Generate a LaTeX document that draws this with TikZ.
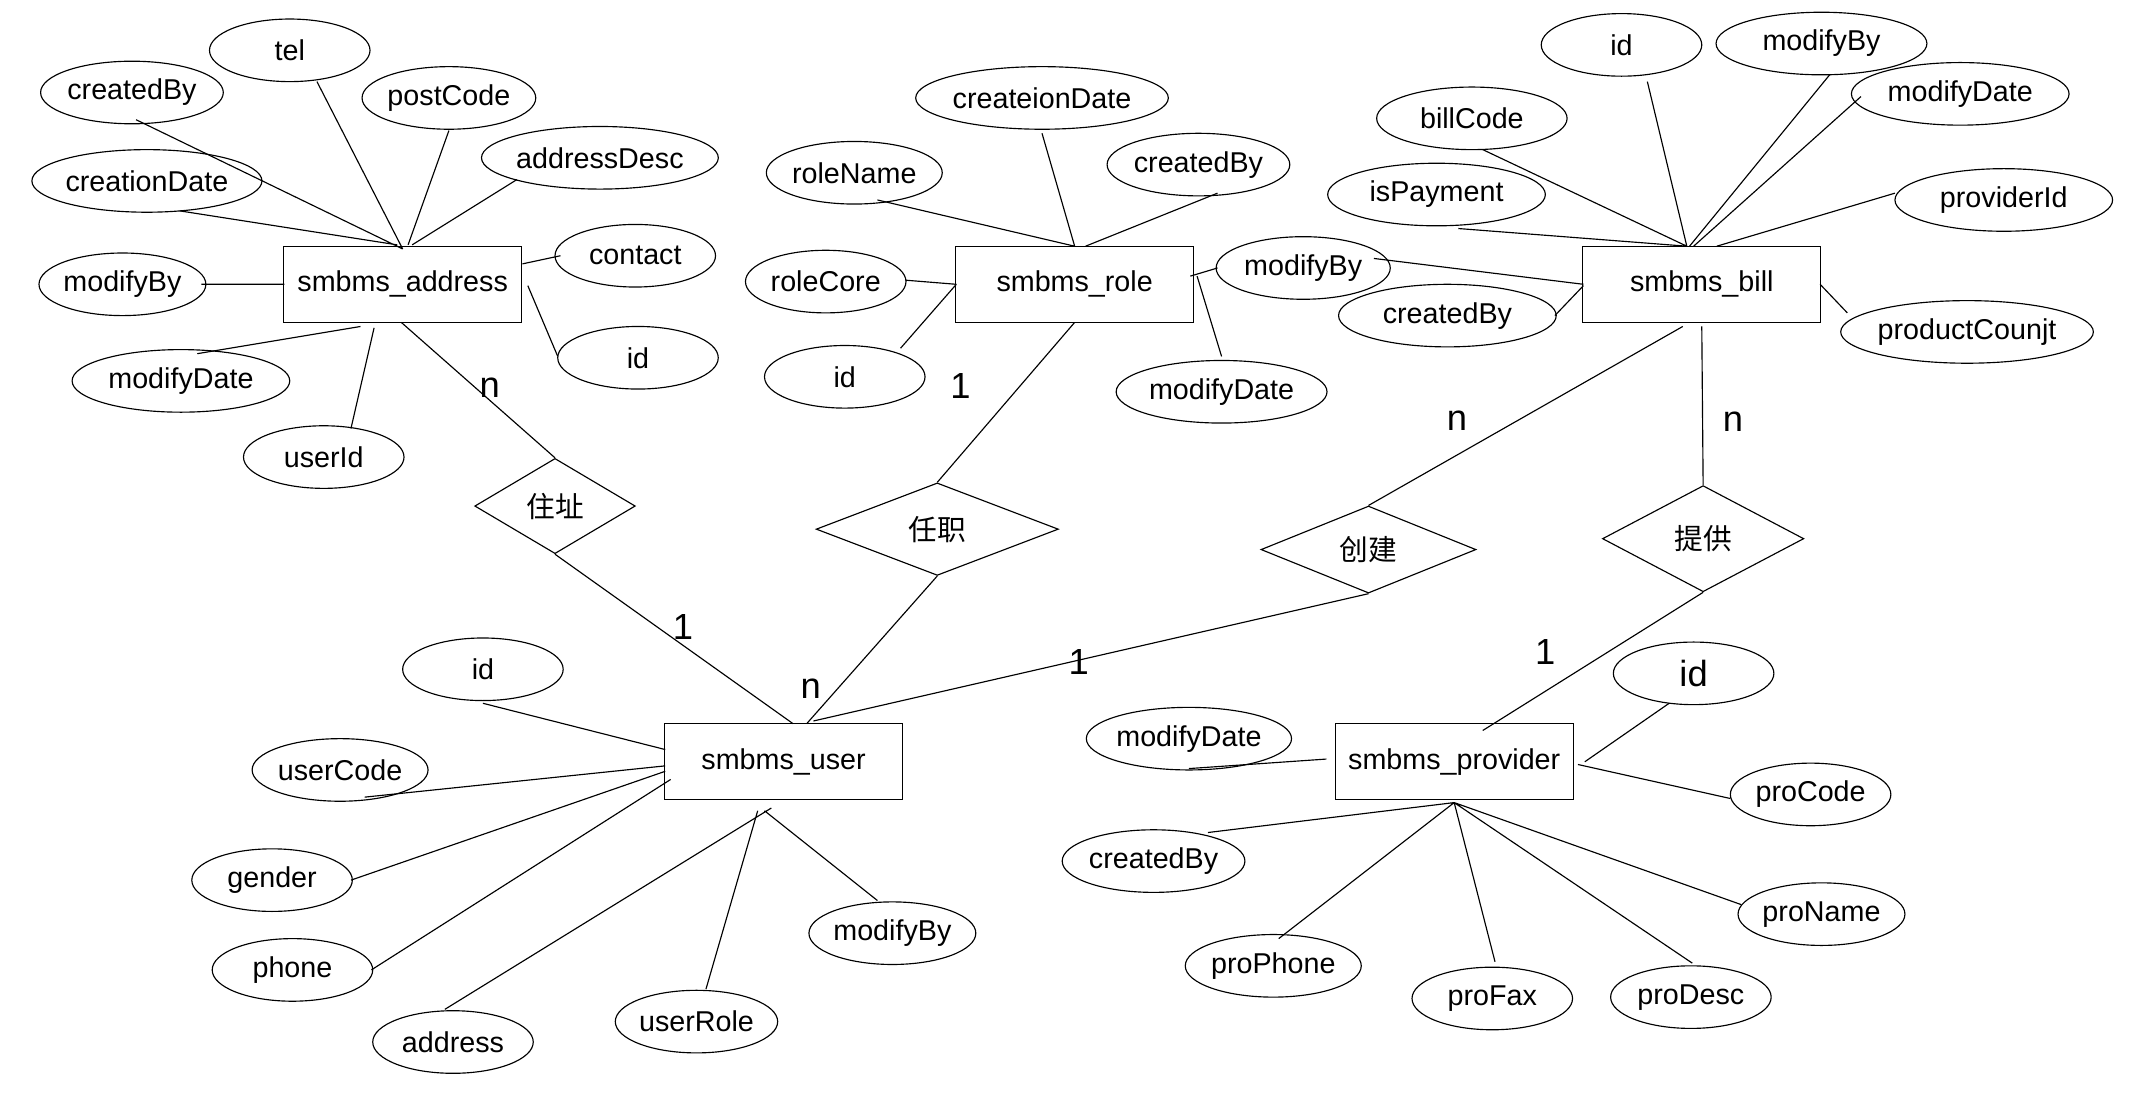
\documentclass[tikz,border=0pt]{standalone}
\usepackage{fontspec}
\setmainfont{Liberation Sans}
\newfontfamily\cjk{Noto Sans CJK SC}
\usetikzlibrary{shapes.geometric}
\begin{document}
\begin{tikzpicture}[x=0.025cm,y=-0.025cm,line width=0.6pt,
  every node/.style={font=\fontsize{15}{17}\selectfont},
  ent/.style={draw,minimum width=4.375cm,minimum height=1.4cm,inner sep=0},
  att/.style={draw,ellipse,minimum width=#1*0.025cm,minimum height=1.15cm,inner sep=0},
  att/.default=118,
  rel/.style={draw,diamond,aspect=#1,inner sep=0,font=\cjk\fontsize{15}{17}\selectfont},
  card/.style={font=\fontsize{19}{21}\selectfont}]
\useasboundingbox (0,0) rectangle (1568,806);
% entities
\node[ent] (addr) at (296,209) {smbms\_address};
\node[ent] (role) at (790,209) {smbms\_role};
\node[ent] (bill) at (1251,209) {smbms\_bill};
\node[ent] (user) at (576,560) {smbms\_user};
\node[ent] (prov) at (1069,560) {smbms\_provider};
% address attrs
\node[att] (a1) at (97,68) {createdBy};
\node[att] (a2) at (213,37) {tel};
\node[att] (a3) at (330,72) {postCode};
\node[att=150] (a4) at (441,116) {addressDesc};
\node[att=150] (a5) at (108,133) {creationDate};
\node[att] (a6) at (467,188) {contact};
\node[att] (a7) at (90,209) {modifyBy};
\node[att] (a8) at (469,263) {id};
\node[att=160] (a9) at (133,280) {modifyDate};
\node[att] (a10) at (238,336) {userId};
\draw (100,88)--(296,183) (233,60)--(296,183) (330,96)--(300,180) (380,132)--(303,180)
 (132,155)--(292,180) (412,188)--(384,194) (148,209)--(209,209) (410,262)--(388,210)
 (145,260)--(265,240) (258,315)--(275,241);
% role attrs
\node[att=170] (r1) at (766,72) {createionDate};
\node[att] (r2) at (628,127) {roleName};
\node[att=120] (r3) at (881,121) {createdBy};
\node[att] (r4) at (607,207) {roleCore};
\node[att] (r6) at (621,277) {id};
\node[att=155] (r7) at (898,288) {modifyDate};
\node[att=128] (r5) at (958,197) {modifyBy};
\draw (766,98)--(790,181) (645,147)--(790,181) (895,142)--(798,181) (666,206)--(703,209)
 (662,256)--(703,209) (875,203)--(895,197) (898,262)--(880,203);
% bill attrs
\node[att] (b1) at (1192,33) {id};
\node[att=155] (b2) at (1339,32) {modifyBy};
\node[att=140] (b3) at (1082,87) {billCode};
\node[att=160] (b4) at (1441,69) {modifyDate};
\node[att=160] (b5) at (1056,143) {isPayment};
\node[att=160] (b6) at (1473,147) {providerId};
\node[att=160] (b7) at (1064,232) {createdBy};
\node[att=178] (b8) at (1446,244) {productCounjt};
\draw (1211,60)--(1240,181) (1345,55)--(1242,181) (1090,110)--(1240,181) (1368,71)--(1245,181)
 (1072,168)--(1240,181) (1393,142)--(1262,181) (1143,232)--(1164,210) (1358,230)--(1338,209)
 (1010,190)--(1164,209);
% user attrs
\node[att] (u1) at (355,492) {id};
\node[att] (u2) at (250,566) {userCode};
\node[att] (u3) at (200,647) {gender};
\node[att] (u4) at (215,713) {phone};
\node[att] (u5) at (333,766) {address};
\node[att] (u6) at (512,751) {userRole};
\node[att] (u7) at (656,686) {modifyBy};
\draw (355,517)--(489,551) (268,586)--(489,563) (258,647)--(489,567) (273,713)--(493,573)
 (327,742)--(567,594) (519,727)--(557,596) (645,662)--(562,596);
% provider attrs
\node[att] (p1) at (874,543) {modifyDate};
\node[att] (p2) at (1245,495) {\fontsize{19}{21}\selectfont id};
\node[att] (p3) at (1331,584) {proCode};
\node[att] (p4) at (848,633) {createdBy};
\node[att] (p5) at (1339,672) {proName};
\node[att] (p6) at (936,710) {proPhone};
\node[att] (p7) at (1097,734) {proFax};
\node[att] (p8) at (1243,733) {proDesc};
\draw (874,565)--(975,558) (1227,517)--(1165,560) (1272,587)--(1160,562) (888,612)--(1069,590)
 (1280,665)--(1069,590) (940,690)--(1069,590) (1099,707)--(1069,590) (1244,708)--(1069,590);
% relationships
\node[rel=1.69,minimum width=2.95cm,minimum height=1.75cm] (d1) at (408,372) {住址};
\node[rel=2.6,minimum width=4.45cm,minimum height=1.7cm] (d2) at (689,389) {任职};
\node[rel=2.45,minimum width=3.95cm,minimum height=1.6cm] (d3) at (1006,404) {创建};
\node[rel=1.9,minimum width=3.7cm,minimum height=1.95cm] (d4) at (1252,396) {提供};
\draw (295,237)--(d1.north) (d1.south)--(583,532)
 (790,237)--(d2.north) (d2.south)--(593,532)
 (1237,240)--(d3.north) (d3.south)--(598,530)
 (1251,240)--(d4.north) (d4.south)--(1090,537);
\node[card] (c1) at (360,285) {n};
\node[card] (c2) at (502,461) {1};
\node[card] (c3) at (706,284) {1};
\node[card] (c4) at (596,506) {n};
\node[card] (c5) at (1071,309) {n};
\node[card] (c6) at (793,487) {1};
\node[card] (c7) at (1274,310) {n};
\node[card] (c8) at (1136,479) {1};
\end{tikzpicture}
\end{document}
